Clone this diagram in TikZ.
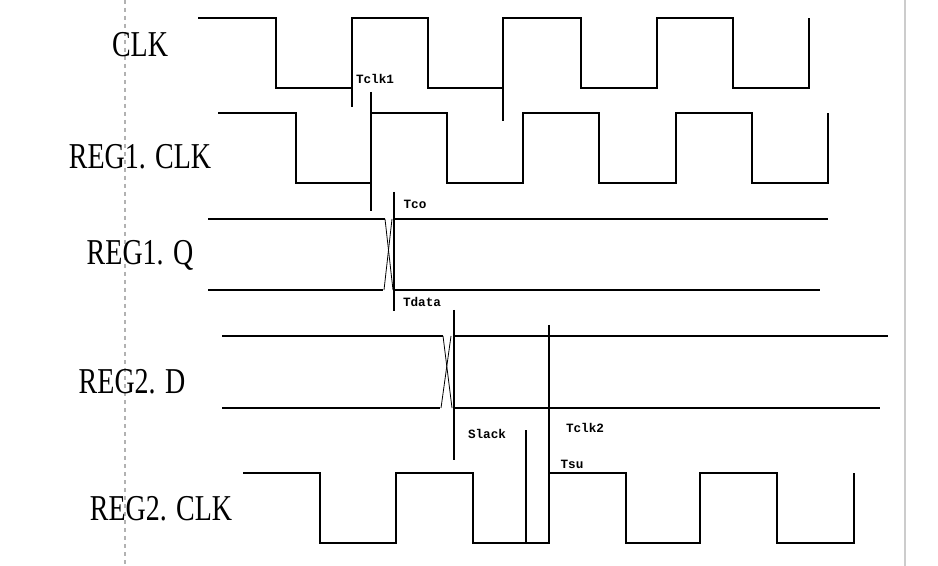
\documentclass[tikz,border=0pt]{standalone}
\usepackage{fontspec}
\setmainfont{Liberation Serif}
\newfontfamily\monof{Liberation Mono}
\begin{document}
\begin{tikzpicture}[x=0.75pt,y=-0.75pt,line width=1.1pt,
  big/.style={font=\fontsize{21}{24}\selectfont,yscale=1.3},
  sm/.style={font=\monof\bfseries\fontsize{9.5}{10}\selectfont,inner sep=0pt},
  thin/.style={line width=0.6pt}]
\useasboundingbox (0,0) rectangle (938,566);
\fill[white] (0,0) rectangle (938,566);
\draw[gray!60,dashed,line width=0.8pt] (125,0) -- (125,566);
\draw[gray!40,line width=0.8pt] (905,0) -- (905,566);
\node[big] (l1) at (140,45) {CLK};
\node[big] (l2) at (140,157) {REG1. CLK};
\node[big] (l3) at (140,255) {REG1. Q};
\node[big] (l4) at (132,382) {REG2. D};
\node[big] (l5) at (161,509) {REG2. CLK};
% CLK
\draw (198,18) -- (276,18) -- (276,88) -- (352,88) -- (352,18) -- (428,18) -- (428,88) -- (503,88) -- (503,18) -- (581,18) -- (581,88) -- (657,88) -- (657,18) -- (733,18) -- (733,88) -- (809,88) -- (809,18);
\draw (352,88) -- (352,107);
\draw (503,88) -- (503,121);
% REG1.CLK
\draw (218,113) -- (296,113) -- (296,183) -- (371,183) -- (371,113) -- (447,113) -- (447,183) -- (523,183) -- (523,113) -- (599,113) -- (599,183) -- (676,183) -- (676,113) -- (752,113) -- (752,183) -- (828,183) -- (828,113);
\draw (371,92) -- (371,211);
% REG1.Q
\draw (208,219) -- (385,219); \draw (394,219) -- (828,219);
\draw (208,290) -- (383,290); \draw (394,290) -- (820,290);
\draw[thin] (385,219) -- (393,290); \draw[thin] (392,219) -- (384,290);
\draw (394,192) -- (394,311);
% REG2.D
\draw (222,336) -- (443,336); \draw (453,336) -- (888,336);
\draw (222,408) -- (440,408); \draw (453,408) -- (880,408);
\draw[thin] (443,336) -- (452,408); \draw[thin] (451,336) -- (441,408);
\draw (454,310) -- (454,460);
\draw (549,325) -- (549,543);
\draw (526,430) -- (526,543);
% REG2.CLK
\draw (243,473) -- (320,473) -- (320,543) -- (396,543) -- (396,473) -- (473,473) -- (473,543) -- (549,543) -- (549,473) -- (626,473) -- (626,543) -- (700,543) -- (700,473) -- (777,473) -- (777,543) -- (854,543) -- (854,473);
% labels
\node[sm] (t1) at (375,79) {Tclk1};
\node[sm] (t2) at (415,204) {Tco};
\node[sm] (t3) at (422,302) {Tdata};
\node[sm] (t4) at (487,434) {Slack};
\node[sm] (t5) at (585,428) {Tclk2};
\node[sm] (t6) at (572,464) {Tsu};
\end{tikzpicture}
\end{document}
